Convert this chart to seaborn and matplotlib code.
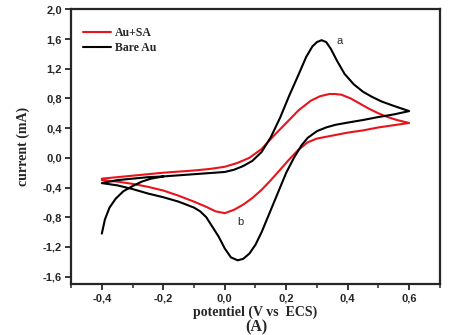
import matplotlib
matplotlib.use("Agg")
import matplotlib.pyplot as plt
from matplotlib.ticker import FuncFormatter, MultipleLocator
import numpy as np
import pandas as pd
import seaborn as sns

# Cyclic voltammograms, points listed in scan order
bare_au_potential = [
    -0.40, -0.39, -0.375, -0.355, -0.33, -0.30, -0.27, -0.24, -0.20,
    -0.15, -0.10, -0.05, 0.00, 0.03, 0.06, 0.09, 0.12, 0.15, 0.18, 0.21,
    0.24, 0.265, 0.285, 0.30, 0.315, 0.33, 0.345, 0.365, 0.39, 0.42, 0.45,
    0.48, 0.51, 0.55, 0.60,
    0.55, 0.50, 0.45, 0.40, 0.36, 0.33, 0.30, 0.27, 0.25, 0.225, 0.20,
    0.175, 0.145, 0.12, 0.10, 0.08, 0.06, 0.042, 0.02, 0.00, -0.02, -0.04,
    -0.06, -0.08, -0.10, -0.15, -0.20, -0.25, -0.30, -0.35, -0.40,
    -0.35, -0.30, -0.25, -0.20,
]
bare_au_current = [
    -1.02, -0.83, -0.67, -0.55, -0.45, -0.38, -0.32, -0.28, -0.25,
    -0.235, -0.22, -0.205, -0.19, -0.16, -0.11, -0.04, 0.08, 0.28, 0.54, 0.84,
    1.12, 1.36, 1.50, 1.56, 1.585, 1.56, 1.47, 1.31, 1.13, 0.99, 0.89,
    0.82, 0.76, 0.70, 0.63,
    0.585, 0.55, 0.51, 0.475, 0.445, 0.41, 0.36, 0.27, 0.17, 0.00, -0.20,
    -0.45, -0.75, -1.00, -1.17, -1.29, -1.36, -1.38, -1.34, -1.22, -1.06, -0.93,
    -0.80, -0.72, -0.67, -0.59, -0.53, -0.48, -0.42, -0.37, -0.34,
    -0.30, -0.28, -0.26, -0.25,
]

au_sa_potential = [
    -0.40, -0.35, -0.30, -0.25, -0.20, -0.15, -0.10, -0.05, 0.00, 0.04,
    0.08, 0.12, 0.16, 0.20, 0.24, 0.28, 0.31, 0.34, 0.36, 0.38, 0.41,
    0.44, 0.47, 0.50, 0.53, 0.56, 0.60,
    0.55, 0.50, 0.45, 0.40, 0.35, 0.30, 0.27, 0.24, 0.21, 0.18, 0.15,
    0.12, 0.09, 0.06, 0.03, 0.00, -0.03, -0.06, -0.10, -0.15, -0.20,
    -0.25, -0.30, -0.35, -0.40,
]
au_sa_current = [
    -0.28, -0.26, -0.24, -0.22, -0.20, -0.185, -0.17, -0.15, -0.12, -0.07,
    0.00, 0.12, 0.30, 0.47, 0.64, 0.77, 0.83, 0.86, 0.86, 0.85, 0.80,
    0.73, 0.66, 0.60, 0.55, 0.51, 0.47,
    0.44, 0.41, 0.37, 0.34, 0.30, 0.26, 0.21, 0.11, -0.02, -0.16, -0.30,
    -0.43, -0.54, -0.63, -0.70, -0.745, -0.72, -0.66, -0.59, -0.51, -0.44,
    -0.39, -0.35, -0.32, -0.30,
]

series_names = ["Au+SA", "Bare Au"]
series_colors = ["#e8141c", "#000000"]

df = pd.concat([
    pd.DataFrame({"potential": au_sa_potential, "current": au_sa_current,
                  "electrode": series_names[0], "order": np.arange(len(au_sa_potential))}),
    pd.DataFrame({"potential": bare_au_potential, "current": bare_au_current,
                  "electrode": series_names[1], "order": np.arange(len(bare_au_potential))}),
], ignore_index=True)

sns.set_style("ticks")
plt.rcParams["font.family"] = ["Liberation Sans", "DejaVu Sans"]

fig = plt.figure(figsize=(4.74, 3.35), dpi=100)
ax = fig.add_axes([0.150, 0.152, 0.778, 0.820])

sns.lineplot(data=df, x="potential", y="current", hue="electrode",
             hue_order=series_names, palette=series_colors, sort=False,
             estimator=None, linewidth=1.5, ax=ax)

ax.set_xlim(-0.5, 0.7)
ax.set_ylim(-1.7, 2.0)
ax.xaxis.set_major_locator(MultipleLocator(0.2))
ax.xaxis.set_minor_locator(MultipleLocator(0.1))
ax.yaxis.set_major_locator(MultipleLocator(0.4))

comma = FuncFormatter(lambda v, pos: f"{v:.1f}".replace(".", ",").replace("-0,0", "0,0"))
ax.xaxis.set_major_formatter(comma)
ax.yaxis.set_major_formatter(comma)

for s in ax.spines.values():
    s.set_linewidth(1.6)
    s.set_visible(True)
ax.tick_params(axis="both", which="major", direction="out", length=4, width=1.3,
               labelsize=8, pad=2.5)
ax.tick_params(axis="x", which="minor", direction="out", length=3, width=1.1)
for lab in ax.get_xticklabels() + ax.get_yticklabels():
    lab.set_fontweight("bold")

serif = ["Liberation Serif", "DejaVu Serif"]
ax.set_xlabel("potentiel (V vs  ECS)", family=serif, fontweight="bold",
              fontsize=10, labelpad=2)
ax.set_ylabel("current (mA)", family=serif, fontweight="bold", fontsize=10,
              labelpad=9)
fig.text(0.540, 0.022, "(A)", family=serif, fontweight="bold", fontsize=11.5,
         ha="center", va="center")

ax.text(0.375, 1.57, "a", fontsize=8, ha="center", va="center")
ax.text(0.05, -0.86, "b", fontsize=8, ha="center", va="center")

leg = ax.legend(loc="upper left", bbox_to_anchor=(0.0, 0.98), frameon=False,
                prop={"family": serif, "weight": "bold", "size": 8.5},
                handlelength=2.4, handletextpad=0.3, labelspacing=0.3,
                borderaxespad=0.6)
for line in leg.get_lines():
    line.set_linewidth(1.5)

fig.savefig("out.png", dpi=100)
